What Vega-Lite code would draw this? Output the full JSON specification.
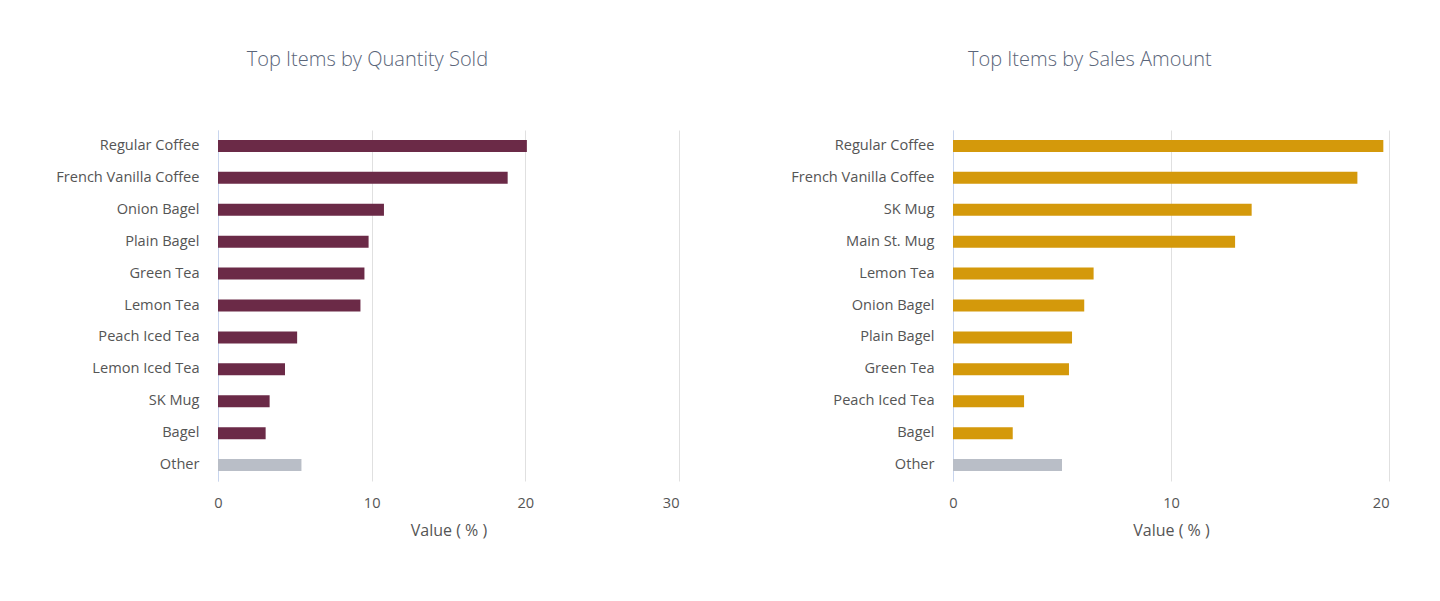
{
  "$schema": "https://vega.github.io/schema/vega-lite/v6.json",
  "background": "#ffffff",
  "padding": {"left": 55, "top": 50, "right": 10, "bottom": 10},
  "datasets": {
    "qty": [
      {"item": "Regular Coffee", "value": 20.1, "kind": "Top"},
      {"item": "French Vanilla Coffee", "value": 18.85, "kind": "Top"},
      {"item": "Onion Bagel", "value": 10.8, "kind": "Top"},
      {"item": "Plain Bagel", "value": 9.8, "kind": "Top"},
      {"item": "Green Tea", "value": 9.53, "kind": "Top"},
      {"item": "Lemon Tea", "value": 9.27, "kind": "Top"},
      {"item": "Peach Iced Tea", "value": 5.15, "kind": "Top"},
      {"item": "Lemon Iced Tea", "value": 4.36, "kind": "Top"},
      {"item": "SK Mug", "value": 3.36, "kind": "Top"},
      {"item": "Bagel", "value": 3.1, "kind": "Top"},
      {"item": "Other", "value": 5.43, "kind": "Other"}
    ],
    "sales": [
      {"item": "Regular Coffee", "value": 19.74, "kind": "Top"},
      {"item": "French Vanilla Coffee", "value": 18.55, "kind": "Top"},
      {"item": "SK Mug", "value": 13.7, "kind": "Top"},
      {"item": "Main St. Mug", "value": 12.94, "kind": "Top"},
      {"item": "Lemon Tea", "value": 6.45, "kind": "Top"},
      {"item": "Onion Bagel", "value": 6.02, "kind": "Top"},
      {"item": "Plain Bagel", "value": 5.46, "kind": "Top"},
      {"item": "Green Tea", "value": 5.32, "kind": "Top"},
      {"item": "Peach Iced Tea", "value": 3.26, "kind": "Top"},
      {"item": "Bagel", "value": 2.74, "kind": "Top"},
      {"item": "Other", "value": 5.0, "kind": "Other"}
    ]
  },
  "spacing": 111,
  "resolve": {"scale": {"color": "independent"}},
  "hconcat": [
    {
      "title": {"text": "Top Items by Quantity Sold"},
      "width": 461,
      "height": 351,
      "data": {"name": "qty"},
      "mark": {"type": "bar", "size": 12},
      "encoding": {
        "y": {"field": "item", "type": "nominal", "sort": null, "axis": {"title": null}},
        "x": {"field": "value", "type": "quantitative", "scale": {"domain": [0, 30]}, "axis": {"title": "Value ( % )", "values": [0, 10, 20, 30]}},
        "color": {"field": "kind", "type": "nominal", "scale": {"domain": ["Top", "Other"], "range": ["#6b2a47", "#b9bec7"]}, "legend": null}
      }
    },
    {
      "title": {"text": "Top Items by Sales Amount"},
      "width": 436,
      "height": 351,
      "data": {"name": "sales"},
      "mark": {"type": "bar", "size": 12},
      "encoding": {
        "y": {"field": "item", "type": "nominal", "sort": null, "axis": {"title": null}},
        "x": {"field": "value", "type": "quantitative", "scale": {"domain": [0, 20]}, "axis": {"title": "Value ( % )", "values": [0, 10, 20]}},
        "color": {"field": "kind", "type": "nominal", "scale": {"domain": ["Top", "Other"], "range": ["#d4990b", "#b9bec7"]}, "legend": null}
      }
    }
  ],
  "config": {
    "font": "Open Sans",
    "view": {"stroke": null},
    "axis": {
      "labelFont": "Open Sans",
      "labelFontSize": 14.6,
      "labelColor": "#555555",
      "titleFont": "Open Sans",
      "titleFontSize": 16,
      "titleFontWeight": "normal",
      "titleColor": "#555555",
      "ticks": false
    },
    "axisY": {
      "domain": true,
      "domainColor": "#c8d5ee",
      "domainWidth": 1,
      "grid": false,
      "labelPadding": 19
    },
    "axisX": {
      "domain": false,
      "grid": true,
      "gridColor": "#e0e0e0",
      "labelPadding": 14,
      "titlePadding": 13,
      "labelFlush": false,
      "labelAlign": {"expr": "datum.index === 1 ? 'right' : 'center'"}
    },
    "title": {
      "font": "Open Sans",
      "fontSize": 20,
      "fontWeight": 300,
      "color": "#5a6579",
      "anchor": "middle",
      "frame": "bounds",
      "offset": 60
    }
  }
}
